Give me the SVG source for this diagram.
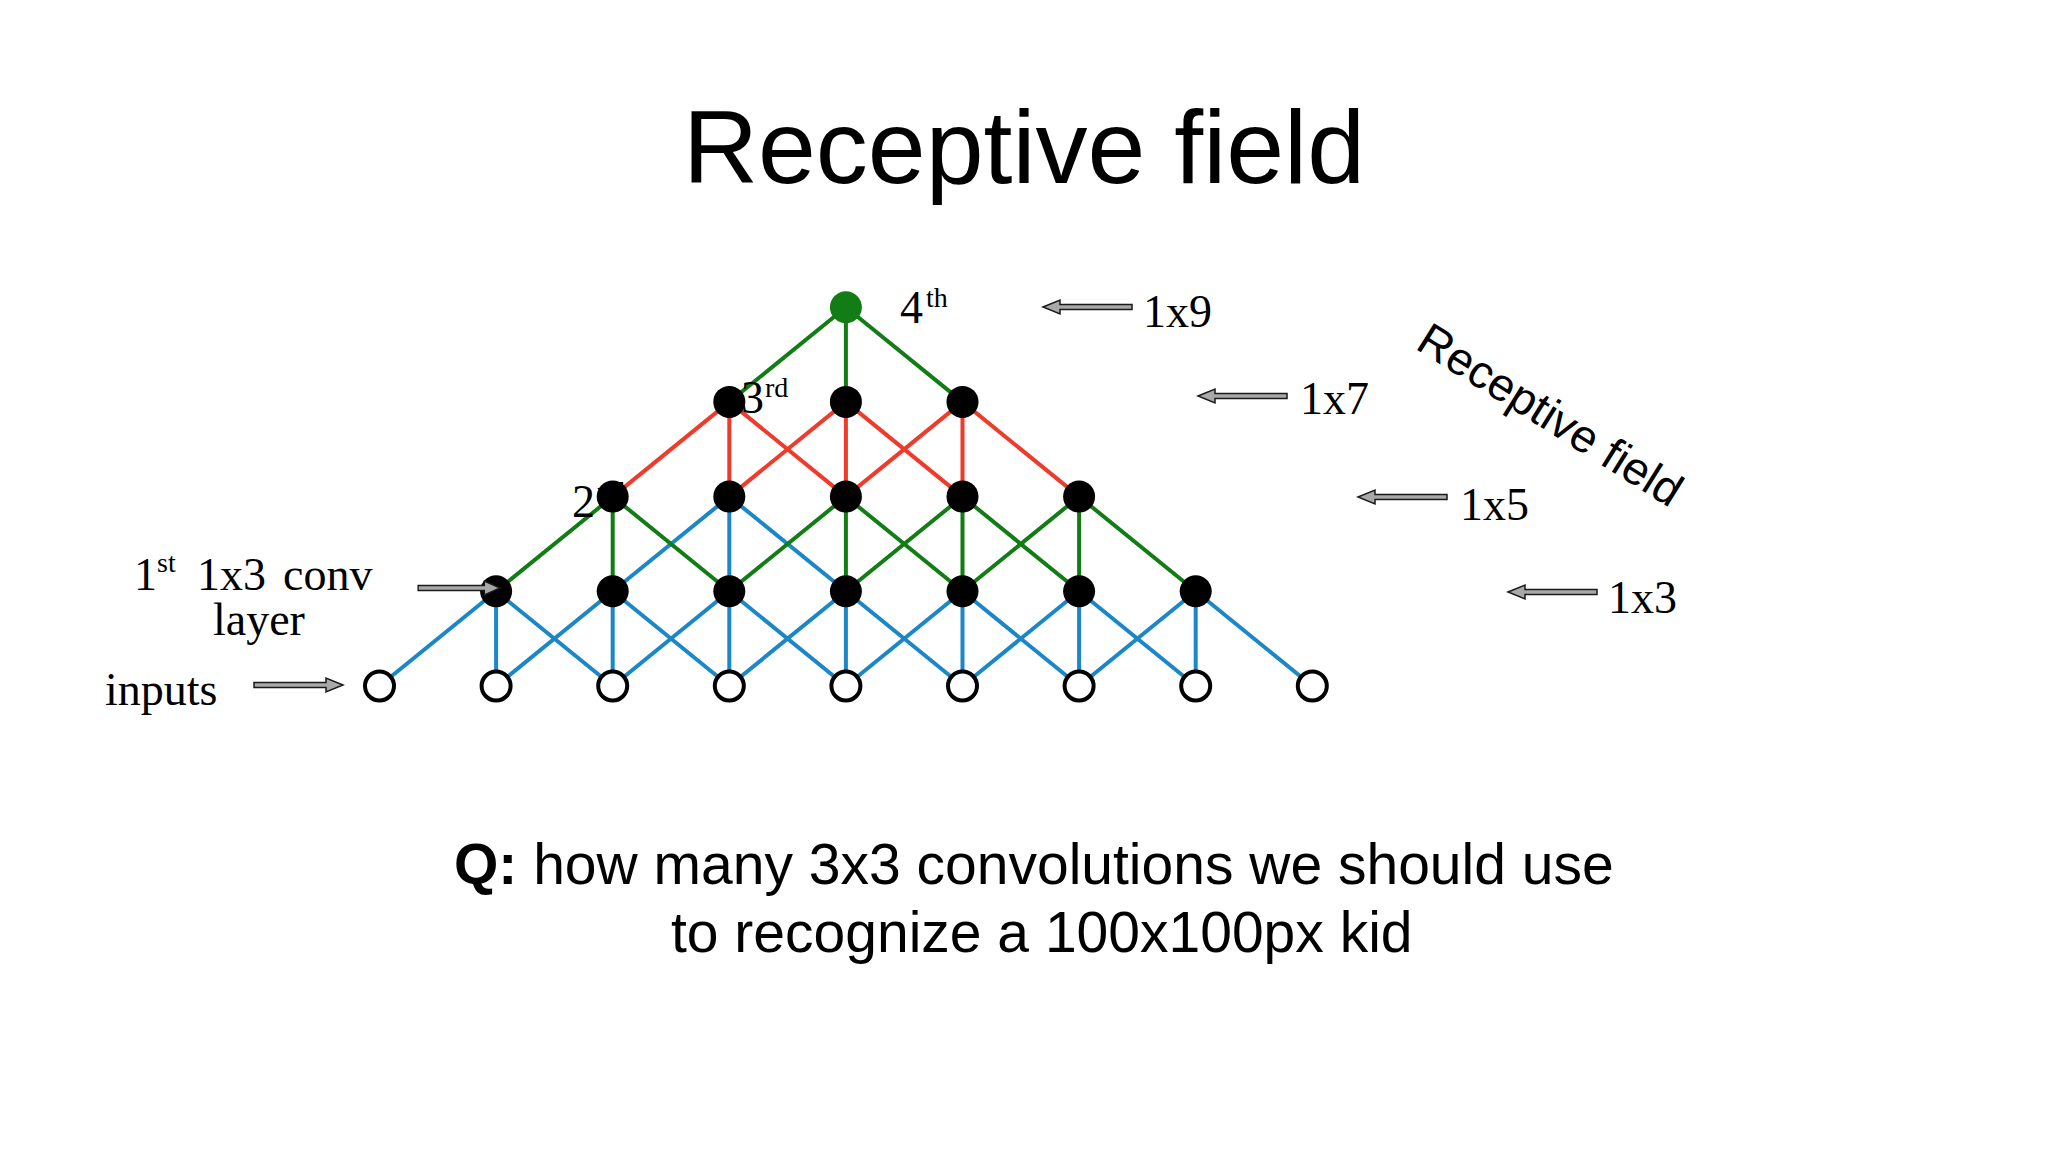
<svg xmlns="http://www.w3.org/2000/svg" xmlns:xlink="http://www.w3.org/1999/xlink" width="2048" height="1152" viewBox="0 0 2048 1152">
<style>
.title{font-family:"Liberation Sans",Arial,sans-serif;font-size:104px;fill:#000}
.q{font-family:"Liberation Sans",Arial,sans-serif;font-size:57px;fill:#000}
.serif{font-family:"Liberation Serif","Times New Roman",serif;font-size:46px;fill:#000}
.sup{font-family:"Liberation Serif","Times New Roman",serif;font-size:28px;fill:#000}
.rot{font-family:"Liberation Sans",Arial,sans-serif;font-size:46px;fill:#000}
.b{stroke:#1b87c8;stroke-width:4;fill:none}
.g{stroke:#137d15;stroke-width:4;fill:none}
.r{stroke:#ee3b2b;stroke-width:4;fill:none}
.node{fill:#000}
.input{fill:#fff;stroke:#000;stroke-width:4}
.arr{fill:#a9a9a9;stroke:#1a1a1a;stroke-width:1.5;stroke-linejoin:miter}
</style>
<defs>
<path id="larr" d="M0,0 L17,-7 L17,-2.6 L89,-2.6 L89,2.6 L17,2.6 L17,7 Z"/>
</defs>
<rect x="0" y="0" width="2048" height="1152" fill="#fff"/>

<text class="title" x="1024" y="183" text-anchor="middle">Receptive field</text>

<g id="connectors">
  <!-- layer1 to inputs (blue) -->
  <path class="b" d="M496.1,591.3L379.5,686M496.1,591.3L496.1,686M496.1,591.3L612.7,686
  M612.7,591.3L496.1,686M612.7,591.3L612.7,686M612.7,591.3L729.3,686
  M729.3,591.3L612.7,686M729.3,591.3L729.3,686M729.3,591.3L845.9,686
  M845.9,591.3L729.3,686M845.9,591.3L845.9,686M845.9,591.3L962.5,686
  M962.5,591.3L845.9,686M962.5,591.3L962.5,686M962.5,591.3L1079.1,686
  M1079.1,591.3L962.5,686M1079.1,591.3L1079.1,686M1079.1,591.3L1195.7,686
  M1195.7,591.3L1079.1,686M1195.7,591.3L1195.7,686M1195.7,591.3L1312.3,686"/>
  <!-- layer2 to layer1 (blue for middle-left node) -->
  <path class="b" d="M729.3,496.6L612.7,591.3M729.3,496.6L729.3,591.3M729.3,496.6L845.9,591.3"/>
  <!-- layer2 to layer1 (green) -->
  <path class="g" d="M612.7,496.6L496.1,591.3M612.7,496.6L612.7,591.3M612.7,496.6L729.3,591.3
  M845.9,496.6L729.3,591.3M845.9,496.6L845.9,591.3M845.9,496.6L962.5,591.3
  M962.5,496.6L845.9,591.3M962.5,496.6L962.5,591.3M962.5,496.6L1079.1,591.3
  M1079.1,496.6L962.5,591.3M1079.1,496.6L1079.1,591.3M1079.1,496.6L1195.7,591.3"/>
  <!-- layer3 to layer2 (red) -->
  <path class="r" d="M729.3,401.9L612.7,496.6M729.3,401.9L729.3,496.6M729.3,401.9L845.9,496.6
  M845.9,401.9L729.3,496.6M845.9,401.9L845.9,496.6M845.9,401.9L962.5,496.6
  M962.5,401.9L845.9,496.6M962.5,401.9L962.5,496.6M962.5,401.9L1079.1,496.6"/>
  <!-- layer4 to layer3 (green) -->
  <path class="g" d="M845.9,307.2L729.3,401.9M845.9,307.2L845.9,401.9M845.9,307.2L962.5,401.9"/>
</g>

<g id="layer-labels">
  <text class="serif" x="572" y="517">2</text><text class="sup" x="597" y="501">nd</text>
  <text class="serif" x="741" y="413">3</text><text class="sup" x="765" y="397">rd</text>
  <text class="serif" x="900" y="323">4</text><text class="sup" x="926" y="307">th</text>
</g>

<g id="inputs">
  <circle class="input" cx="379.5" cy="686" r="14.5"/>
  <circle class="input" cx="496.1" cy="686" r="14.5"/>
  <circle class="input" cx="612.7" cy="686" r="14.5"/>
  <circle class="input" cx="729.3" cy="686" r="14.5"/>
  <circle class="input" cx="845.9" cy="686" r="14.5"/>
  <circle class="input" cx="962.5" cy="686" r="14.5"/>
  <circle class="input" cx="1079.1" cy="686" r="14.5"/>
  <circle class="input" cx="1195.7" cy="686" r="14.5"/>
  <circle class="input" cx="1312.3" cy="686" r="14.5"/>
</g>
<g id="layer1">
  <circle class="node" cx="496.1" cy="591.3" r="16"/>
  <circle class="node" cx="612.7" cy="591.3" r="16"/>
  <circle class="node" cx="729.3" cy="591.3" r="16"/>
  <circle class="node" cx="845.9" cy="591.3" r="16"/>
  <circle class="node" cx="962.5" cy="591.3" r="16"/>
  <circle class="node" cx="1079.1" cy="591.3" r="16"/>
  <circle class="node" cx="1195.7" cy="591.3" r="16"/>
</g>
<g id="layer2">
  <circle class="node" cx="612.7" cy="496.6" r="16"/>
  <circle class="node" cx="729.3" cy="496.6" r="16"/>
  <circle class="node" cx="845.9" cy="496.6" r="16"/>
  <circle class="node" cx="962.5" cy="496.6" r="16"/>
  <circle class="node" cx="1079.1" cy="496.6" r="16"/>
</g>
<g id="layer3">
  <circle class="node" cx="729.3" cy="401.9" r="16"/>
  <circle class="node" cx="845.9" cy="401.9" r="16"/>
  <circle class="node" cx="962.5" cy="401.9" r="16"/>
</g>
<g id="layer4">
  <circle cx="845.9" cy="307.2" r="16" fill="#137d15"/>
</g>

<g id="left-labels">
  <text class="serif" x="134" y="590">1</text><text class="sup" x="157" y="572">st</text>
  <text class="serif" x="197" y="590">1x3</text><text class="serif" x="283" y="590">conv</text>
  <text class="serif" x="213" y="635">layer</text>
  <text class="serif" x="105" y="705">inputs</text>
  <use xlink:href="#larr" class="arr" transform="translate(343,685) scale(-1,1)"/>
  <use xlink:href="#larr" class="arr" transform="translate(500,588) scale(-0.92,1)"/>
</g>

<g id="rf-labels">
  <use xlink:href="#larr" class="arr" transform="translate(1043,307)"/>
  <text class="serif" x="1143" y="327">1x9</text>
  <use xlink:href="#larr" class="arr" transform="translate(1198,396)"/>
  <text class="serif" x="1300" y="414">1x7</text>
  <use xlink:href="#larr" class="arr" transform="translate(1358,497)"/>
  <text class="serif" x="1460" y="520">1x5</text>
  <use xlink:href="#larr" class="arr" transform="translate(1508,592)"/>
  <text class="serif" x="1608" y="613">1x3</text>
  <text class="rot" transform="translate(1542,428) rotate(32)" text-anchor="middle">Receptive field</text>
</g>

<g id="question">
  <text class="q" x="454" y="884"><tspan font-weight="bold">Q:</tspan> how many 3x3 convolutions we should use</text>
  <text class="q" x="671" y="952">to recognize a 100x100px kid</text>
</g>
</svg>
